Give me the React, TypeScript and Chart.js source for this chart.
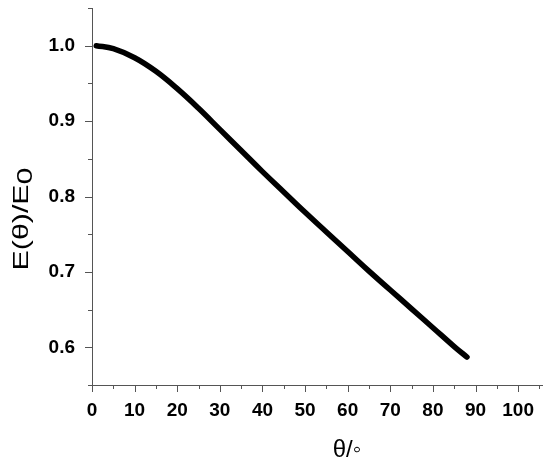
import React, { useEffect, useRef } from "react";
import { Chart, registerables } from "chart.js";

Chart.register(...registerables);

const thetaDeg = [1, 5, 10, 15, 20, 25, 30, 35, 40, 45, 50, 55, 60, 65, 70, 75, 80, 85, 88];
const fieldRatio = [1.0, 0.996, 0.984, 0.966, 0.943, 0.917, 0.889, 0.861, 0.833, 0.806, 0.779, 0.753, 0.727, 0.701, 0.676, 0.651, 0.626, 0.601, 0.587];

const xMajorTicks = [0, 10, 20, 30, 40, 50, 60, 70, 80, 90, 100];
const xMinorTicks = [5, 15, 25, 35, 45, 55, 65, 75, 85, 95, 105];
const yMajorTicks = [0.6, 0.7, 0.8, 0.9, 1.0];
const yMinorTicks = [0.55, 0.65, 0.75, 0.85, 0.95, 1.05];

const xTitle = "θ/◦";
const yTitleMain = "E(θ)/E";
const yTitleSub = "0";

const FONT = "'Liberation Sans', Arial, sans-serif";
const AXIS_COLOR = "#555555";

const customAxesPlugin = {
  id: "customAxes",
  afterDraw(chart: any) {
    const ctx = chart.ctx as CanvasRenderingContext2D;
    const xs = chart.scales.x;
    const ys = chart.scales.y;
    const area = chart.chartArea;
    ctx.save();
    ctx.strokeStyle = AXIS_COLOR;
    ctx.lineWidth = 1;
    const drawX = (v: number, len: number) => {
      const px = Math.round(xs.getPixelForValue(v)) + 0.5;
      ctx.beginPath();
      ctx.moveTo(px, area.bottom);
      ctx.lineTo(px, area.bottom + len);
      ctx.stroke();
    };
    const drawY = (v: number, len: number) => {
      const py = Math.round(ys.getPixelForValue(v)) + 0.5;
      ctx.beginPath();
      ctx.moveTo(area.left, py);
      ctx.lineTo(area.left - len, py);
      ctx.stroke();
    };
    xMajorTicks.forEach((v) => drawX(v, 7));
    xMinorTicks.forEach((v) => drawX(v, 4));
    yMajorTicks.forEach((v) => drawY(v, 7));
    yMinorTicks.forEach((v) => drawY(v, 4));

    // x title
    ctx.fillStyle = "#000";
    ctx.font = `24px ${FONT}`;
    ctx.textAlign = "center";
    ctx.textBaseline = "alphabetic";
    ctx.fillText(xTitle, 347, 457);

    // y title (rotated, with subscript)
    ctx.translate(28, 219);
    ctx.rotate(-Math.PI / 2);
    ctx.scale(1.38, 1);
    ctx.font = `22px ${FONT}`;
    ctx.textAlign = "left";
    const wMain = ctx.measureText(yTitleMain).width;
    const wSub = ctx.measureText(yTitleSub).width;
    const total = wMain + wSub;
    ctx.fillText(yTitleMain, -total / 2, 0);
    ctx.fillText(yTitleSub, -total / 2 + wMain, 4);
    ctx.restore();
  },
};

export default function App() {
  const canvasRef = useRef<HTMLCanvasElement | null>(null);

  useEffect(() => {
    if (!canvasRef.current) return;
    const chart = new Chart(canvasRef.current, {
      type: "line",
      data: {
        datasets: [
          {
            data: thetaDeg.map((t, i) => ({ x: t, y: fieldRatio[i] })),
            borderColor: "#000",
            borderWidth: 5.5,
            pointRadius: 0,
            tension: 0.4,
            borderCapStyle: "round",
            borderJoinStyle: "round",
            fill: false,
          },
        ],
      },
      options: {
        animation: false,
        responsive: true,
        maintainAspectRatio: false,
        layout: { padding: { left: 0, top: 8, right: 8, bottom: 0 } },
        plugins: {
          legend: { display: false },
          tooltip: { enabled: false },
        },
        scales: {
          x: {
            type: "linear",
            min: 0,
            max: 105.6,
            afterBuildTicks: (scale: any) => {
              scale.ticks = xMajorTicks.map((v) => ({ value: v }));
            },
            afterFit: (scale: any) => {
              scale.height = 82;
              scale.paddingLeft = 0;
              scale.paddingRight = 0;
            },
            ticks: {
              autoSkip: false,
              maxRotation: 0,
              padding: 14,
              color: "#000",
              font: { family: FONT, size: 19, weight: "bold" },
              callback: (v: any) => String(v),
            },
            grid: { display: true, drawOnChartArea: false, drawTicks: false },
            border: { display: true, color: AXIS_COLOR, width: 1 },
          },
          y: {
            type: "linear",
            min: 0.55,
            max: 1.05,
            afterBuildTicks: (scale: any) => {
              scale.ticks = yMajorTicks.map((v) => ({ value: v }));
            },
            afterFit: (scale: any) => {
              scale.width = 92;
              scale.paddingTop = 0;
              scale.paddingBottom = 0;
            },
            ticks: {
              autoSkip: false,
              padding: 17,
              color: "#000",
              font: { family: FONT, size: 19, weight: "bold" },
              callback: (v: any) => Number(v).toFixed(1),
            },
            grid: { display: true, drawOnChartArea: false, drawTicks: false },
            border: { display: true, color: AXIS_COLOR, width: 1 },
          },
        },
      },
      plugins: [customAxesPlugin],
    } as any);
    return () => chart.destroy();
  }, []);

  return (
    <div style={{ position: "fixed", left: 0, top: 0, width: 550, height: 467, background: "#fff" }}>
      <canvas ref={canvasRef} />
    </div>
  );
}
